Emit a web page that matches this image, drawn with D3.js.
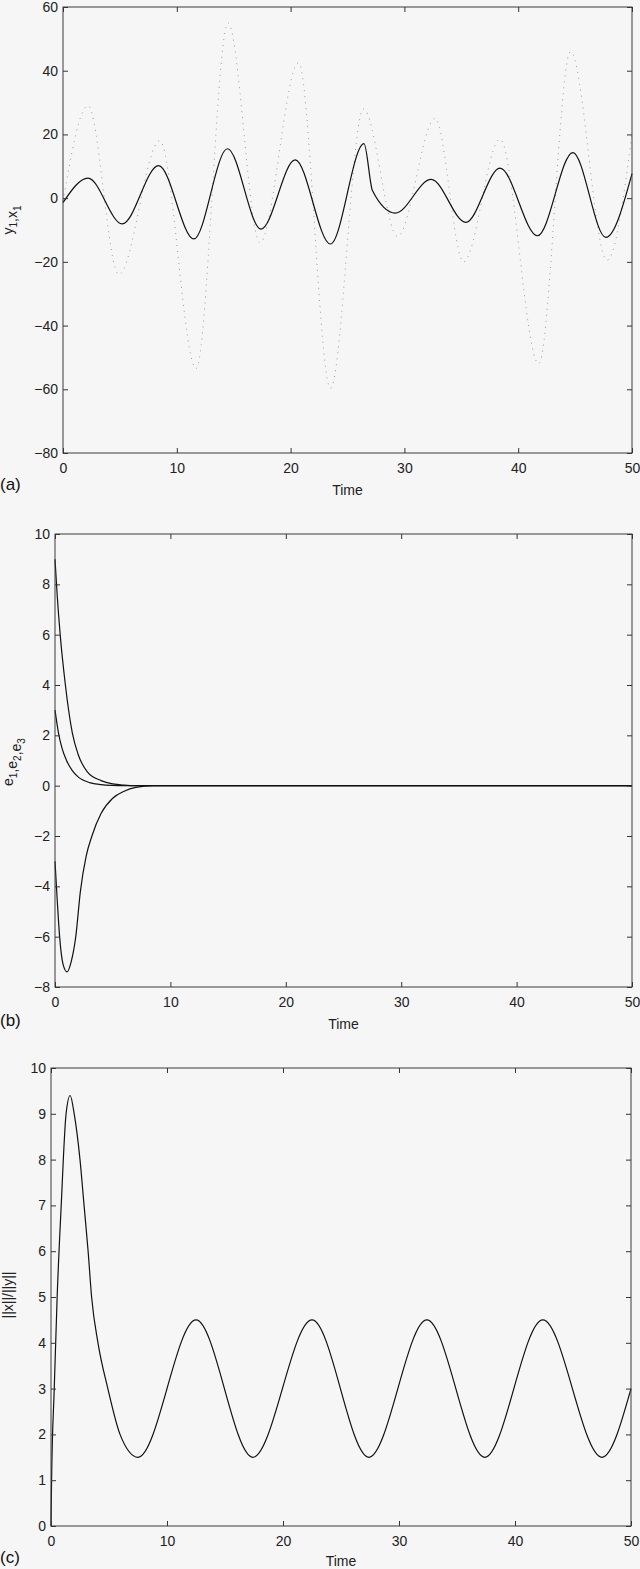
<!DOCTYPE html>
<html>
<head>
<meta charset="utf-8">
<script src="https://cdn.jsdelivr.net/npm/d3@7"></script>
<style>
  body { margin: 0; background: #f6f6f6; }
  svg { display: block; font-family: "Liberation Sans", Arial, Helvetica, sans-serif; }
</style>
</head>
<body>
<svg id="fig" width="640" height="1569"></svg>
<script>
// ---- data ----
var timeTicks = [0, 10, 20, 30, 40, 50];

// (a) master x1 (solid) and slave y1 (dotted), [time, value]
var ticksA = [-80, -60, -40, -20, 0, 20, 40, 60];
var x1Data = [[0,-1.4],[2.2,6.3],[5.2,-8.1],[8.4,10.2],[11.5,-12.8],[14.45,15.5],[17.4,-9.7],
  [20.4,12],[23.5,-14.4],[26.45,17.1],[27.2,2.3],[29.2,-4.7],[32.35,5.9],[35.4,-7.6],
  [38.4,9.4],[41.7,-11.8],[44.8,14.3],[47.7,-12.3],[50,7.7]];
var y1Data = [[0,-1],[2.2,29],[4.9,-24],[8.5,18],[11.7,-53.5],[14.5,55],[17.3,-14],
  [20.7,42.5],[23.5,-59.7],[26.4,28],[29.4,-12],[32.7,25],[35.2,-20],[38.4,18.5],
  [41.8,-52],[44.6,46],[47.8,-19.5],[50,20]];

// (b) errors e1, e2, e3
var ticksB = [-8, -6, -4, -2, 0, 2, 4, 6, 8, 10];
var e1Data = [[0,9],[0.2,7.5],[0.45,6],[0.9,4],[1.5,2.1],[2,1.25],[2.8,0.55],[4,0.2],
  [5,0.07],[6,0.02],[7,0],[50,0]];
var e2Data = [[0,3],[0.3,2.1],[0.6,1.5],[1,1.0],[1.5,0.6],[2,0.35],[3,0.12],[4,0.04],
  [5,0.01],[6,0],[50,0]];
var e3Data = [[0,-3],[0.2,-4.6],[0.4,-6],[0.7,-7.1],[1.05,-7.4],[1.4,-7],[1.8,-6],[2.2,-4.2],
  [2.7,-2.8],[3.2,-2],[4,-1.1],[5,-0.5],[6,-0.22],[7,-0.07],[8.5,0],[50,0]];

// (c) ||x|| / ||y||
var ticksC = [0, 1, 2, 3, 4, 5, 6, 7, 8, 9, 10];
var ratioData = [[0,0],[0.05,1],[0.28,3],[0.53,5],[0.88,7],[1.3,9],[1.65,9.4],[2.0,9.0],
  [2.5,8],[2.85,7],[3.2,6],[3.5,5],[4.05,4],[4.9,3],[5.95,2],[7.5,1.5],[12.5,4.5],
  [17.4,1.5],[22.5,4.5],[27.4,1.5],[32.4,4.5],[37.4,1.5],[42.4,4.5],[47.5,1.5],[50,3.0]];

var svg = d3.select("#fig");

//	one MATLAB-style axes box
function drawPanel(p) {
  var x = d3.scaleLinear().domain([0, 50]).range([p.left, p.right]);
  var y = d3.scaleLinear().domain(d3.extent(p.yTicks)).range([p.bottom, p.top]);
  var g = svg.append("g");

  var line = d3.line()
    .x(function(d) { return x(d[0]); })
    .y(function(d) { return y(d[1]); })
    .curve(d3.curveMonotoneX);

  p.series.forEach(function(s) {
    g.append("path")
      .datum(s.data)
      .attr("fill", "none")
      .attr("stroke", s.dotted ? "#9a9a9a" : "#111")
      .attr("stroke-width", s.dotted ? 1 : 1.2)
      .attr("stroke-dasharray", s.dotted ? "1,5" : null)
      .attr("d", line);
  });

  // ticks point inward on all four sides
  var bottom = g.append("g").attr("transform", "translate(0," + p.bottom + ")")
    .call(d3.axisBottom(x).tickValues(timeTicks).tickSize(-5).tickSizeOuter(0).tickPadding(10));
  g.append("g").attr("transform", "translate(0," + p.top + ")")
    .call(d3.axisTop(x).tickValues(timeTicks).tickSize(-5).tickSizeOuter(0).tickFormat(""));
  var left = g.append("g").attr("transform", "translate(" + p.left + ",0)")
    .call(d3.axisLeft(y).tickValues(p.yTicks).tickSize(-5).tickSizeOuter(0).tickPadding(5));
  g.append("g").attr("transform", "translate(" + p.right + ",0)")
    .call(d3.axisRight(y).tickValues(p.yTicks).tickSize(-5).tickSizeOuter(0).tickFormat(""));

  g.selectAll(".domain").remove();
  g.selectAll(".tick line").attr("stroke", "#333");
  g.selectAll(".tick text").attr("fill", "#222");
  [bottom, left].forEach(function(a) {
    a.attr("font-size", 14).attr("font-family", null);
  });

  g.append("rect")
    .attr("x", p.left).attr("y", p.top)
    .attr("width", p.right - p.left).attr("height", p.bottom - p.top)
    .attr("fill", "none").attr("stroke", "#3a3a3a").attr("stroke-width", 1);

  g.append("text")
    .attr("x", (p.left + p.right) / 2).attr("y", p.bottom + p.timeGap)
    .attr("text-anchor", "middle").attr("font-size", 14).attr("fill", "#222")
    .text("Time");

  g.append("text")
    .attr("x", 0).attr("y", p.tagY)
    .attr("font-size", 17).attr("fill", "#111")
    .text(p.tag);

  // y label, rotated, with subscripts
  var yl = g.append("text")
    .attr("transform", "translate(13," + p.labelY + ") rotate(-90)")
    .attr("text-anchor", "middle").attr("font-size", 14).attr("fill", "#222");
  p.label.forEach(function(part) {
    if (part.sub) {
      yl.append("tspan").attr("font-size", 10).attr("dy", 4).text(part.sub);
      yl.append("tspan").attr("dy", -4).text("");
    } else {
      yl.append("tspan").text(part.t);
    }
  });
}

drawPanel({
  left: 63, right: 632, top: 7, bottom: 453,
  yTicks: ticksA, tag: "(a)", tagY: 490, labelY: 220, timeGap: 42,
  label: [{t: "y"}, {sub: "1"}, {t: ",x"}, {sub: "1"}],
  series: [{data: y1Data, dotted: true}, {data: x1Data}]
});

drawPanel({
  left: 55, right: 632, top: 534, bottom: 987,
  yTicks: ticksB, tag: "(b)", tagY: 1026, labelY: 762, timeGap: 42,
  label: [{t: "e"}, {sub: "1"}, {t: ",e"}, {sub: "2"}, {t: ",e"}, {sub: "3"}],
  series: [{data: e1Data}, {data: e2Data}, {data: e3Data}]
});

drawPanel({
  left: 51, right: 631, top: 1068, bottom: 1526,
  yTicks: ticksC, tag: "(c)", tagY: 1563, labelY: 1295, timeGap: 40,
  label: [{t: "||x||/||y||"}],
  series: [{data: ratioData}]
});
</script>
</body>
</html>
